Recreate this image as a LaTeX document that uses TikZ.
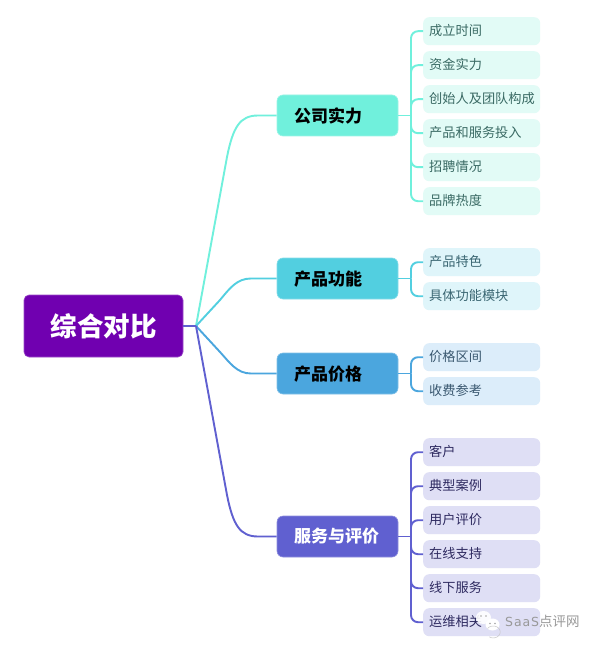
\documentclass[tikz,border=0pt]{standalone}
\usepackage{fontspec}
\setmainfont{Noto Sans CJK SC}
\newfontfamily\wmlatin[LetterSpace=7]{DejaVu Sans}
\definecolor{cA}{HTML}{70F0DC}
\definecolor{cB}{HTML}{52CFE0}
\definecolor{cC}{HTML}{4BA6DE}
\definecolor{cD}{HTML}{6060D0}
\definecolor{lA}{HTML}{E2FBF6}
\definecolor{lB}{HTML}{DFF5FA}
\definecolor{lC}{HTML}{DCEDFA}
\definecolor{lD}{HTML}{DFDFF5}
\definecolor{tA}{HTML}{3A6A64}
\definecolor{tB}{HTML}{3A6672}
\definecolor{tC}{HTML}{3A5870}
\definecolor{tD}{HTML}{2E2A60}
\definecolor{rootc}{HTML}{7000B0}
\tikzset{
  rootbox/.style={draw=rootc!70!white,line width=.6pt,fill=rootc,rounded corners=5,minimum width=159,minimum height=62,inner sep=0,text=white,font=\fontsize{26.5}{30}\selectfont\bfseries},
  branchbox/.style={line width=.6pt,rounded corners=6,minimum width=121,minimum height=41,inner sep=0},
  branchtext/.style={anchor=west,inner sep=0,font=\fontsize{17}{20}\selectfont\bfseries},
  leafbox/.style={rounded corners=6,minimum width=117,minimum height=28,inner sep=0},
  trunk/.style={line width=1.9pt},
  twig/.style={line width=1.9pt,rounded corners=7},
}
\newcommand{\leafnode}[5]{%
  \node[leafbox,fill=#4,anchor=north west] (#1) at (423,#2) {};
  \node[anchor=west,inner sep=0,text=#5,font=\fontsize{13.2}{16}\selectfont] (#1t) at (429,#2+13.7) {#3};
}
\begin{document}
\begin{tikzpicture}[x=1pt,y=-1pt]
\useasboundingbox (0,0) rectangle (600,647);
\fill[white] (0,0) rectangle (600,647);
\coordinate (hub) at (196,326);
\coordinate (hA) at (411,115.5);
\coordinate (hB) at (411,278.5);
\coordinate (hC) at (411,373.5);
\coordinate (hD) at (411,536.5);

\node[rootbox] (root) at (103.5,326) {综合对比};
\node[branchbox,fill=cA,draw=cA!70!white] (bA) at (337.5,115.5) {};
\node[branchbox,fill=cB,draw=cB!70!white] (bB) at (337.5,278.5) {};
\node[branchbox,fill=cC,draw=cC!70!white] (bC) at (337.5,373.5) {};
\node[branchbox,fill=cD,draw=cD!70!white] (bD) at (337.5,536.5) {};
\node[branchtext,text=black] (bAt) at (294,116) {公司实力};
\node[branchtext,text=black] (bBt) at (294,279) {产品功能};
\node[branchtext,text=black] (bCt) at (294,374) {产品价格};
\node[branchtext,text=white] (bDt) at (294,536) {服务与评价};

\leafnode{a1}{17}{成立时间}{lA}{tA}
\leafnode{a2}{51}{资金实力}{lA}{tA}
\leafnode{a3}{85}{创始人及团队构成}{lA}{tA}
\leafnode{a4}{119}{产品和服务投入}{lA}{tA}
\leafnode{a5}{153}{招聘情况}{lA}{tA}
\leafnode{a6}{187}{品牌热度}{lA}{tA}
\leafnode{b1}{248}{产品特色}{lB}{tB}
\leafnode{b2}{282}{具体功能模块}{lB}{tB}
\leafnode{c1}{343}{价格区间}{lC}{tC}
\leafnode{c2}{377}{收费参考}{lC}{tC}
\leafnode{d1}{438}{客户}{lD}{tD}
\leafnode{d2}{472}{典型案例}{lD}{tD}
\leafnode{d3}{506}{用户评价}{lD}{tD}
\leafnode{d4}{540}{在线支持}{lD}{tD}
\leafnode{d5}{574}{线下服务}{lD}{tD}
\leafnode{d6}{608}{运维相关}{lD}{tD}

\draw[trunk,cA] (hub) -- (227,157) .. controls (233,127) and (240,115.5) .. (258,115.5) -- (bA.west);
\draw[trunk,cB] (hub) -- (220,300) .. controls (230,288) and (237,278.5) .. (251,278.5) -- (bB.west);
\draw[trunk,cC] (hub) -- (220,352) .. controls (230,363) and (237,373.5) .. (251,373.5) -- (bC.west);
\draw[trunk,cD] (hub) -- (227,495) .. controls (233,525) and (240,536.5) .. (258,536.5) -- (bD.west);
\draw[trunk,cD] (root.east) -- (hub);

\foreach \l in {a1,a2,a3,a4,a5,a6}{\draw[twig,cA] (hA) |- (\l.west);}
\draw[twig,cA] (bA.east) -- (hA);
\foreach \l in {b1,b2}{\draw[twig,cB] (hB) |- (\l.west);}
\draw[twig,cB] (bB.east) -- (hB);
\foreach \l in {c1,c2}{\draw[twig,cC] (hC) |- (\l.west);}
\draw[twig,cC] (bC.east) -- (hC);
\foreach \l in {d1,d2,d3,d4,d5,d6}{\draw[twig,cD] (hD) |- (\l.west);}
\draw[twig,cD] (bD.east) -- (hD);

% watermark
\fill[white,opacity=.9] (483.5,617.5) ellipse (7.5 and 6.5);
\fill[white] (492.5,624.5) ellipse (7 and 6);
\draw[gray!45,line width=.5pt] (487.5,628.5) arc[start angle=-145,end angle=125,x radius=7,y radius=6];
\fill[gray!70] (490,623.5) circle (.8) (495,623.5) circle (.8) (481,616) circle (.8) (486,616) circle (.8);
\node[anchor=west,inner sep=0,text=gray!80,font=\fontsize{13.5}{15}\selectfont] (wm) at (505,621) {{\fontsize{12.5}{15}\wmlatin SaaS}点评网};
\end{tikzpicture}
\end{document}
